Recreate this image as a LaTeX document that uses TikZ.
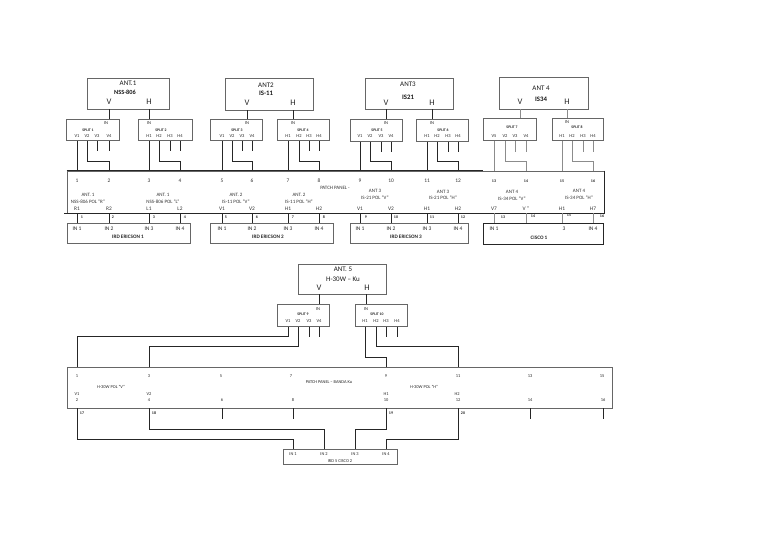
\documentclass[tikz,border=0pt]{standalone}
\usepackage{fontspec}
\setmainfont{Carlito}
\usepackage{tikz}
\tikzset{
	unit/.style={draw=black!60,line width=0.85pt,fill=white,inner sep=0pt},
	wire/.style={draw=black!85,line width=0.8pt},
	fadewire/.style={draw=black!45,line width=0.8pt},
	antlab/.style={font=\fontsize{7}{8}\selectfont,inner sep=0pt,text=black!90},
	pollab/.style={font=\fontsize{8.5}{9}\selectfont,inner sep=0pt,text=black!85},
	pinlab/.style={font=\fontsize{4.5}{5}\selectfont,inner sep=0pt,text=black!85},
	splitlab/.style={font=\fontsize{3.8}{4}\selectfont\bfseries,inner sep=0pt,text=black!85},
	panlab/.style={font=\fontsize{5}{6}\selectfont,inner sep=0pt,text=black!80},
	numlab/.style={font=\fontsize{5.4}{6}\selectfont,inner sep=0pt,text=black!80},
	tinylab/.style={font=\fontsize{4}{5}\selectfont\bfseries,inner sep=0pt,text=black!85},
	bandlab/.style={font=\fontsize{4.4}{5}\selectfont,inner sep=0pt,text=black!85},
	inlab/.style={font=\fontsize{5.5}{6}\selectfont,inner sep=0pt,text=black!85},
	irdlab/.style={font=\fontsize{5.2}{6}\selectfont\bfseries,inner sep=0pt,text=black!85},
}
\begin{document}
\begin{tikzpicture}[x=1pt,y=-1pt]
	\useasboundingbox (0,0) rectangle (768,543);
	% antennas
	\node [unit, minimum width=82, minimum height=31] (ant1) at (128,93.5) {};
	\node [unit, minimum width=88, minimum height=32] (ant2) at (269.5,94) {};
	\node [unit, minimum width=88, minimum height=31] (ant3) at (409,93.5) {};
	\node [unit, minimum width=89, minimum height=32] (ant4) at (543.5,93) {};
	\node [unit, minimum width=88, minimum height=30] (ant5) at (342,279) {};
	\node [antlab] (a1t) at (128,83.5) {ANT.1};
	\node [antlab, font=\fontsize{6.3}{7}\selectfont\bfseries] (a1s) at (125,92.5) {NSS-806};
	\node [antlab] (a2t) at (266,85) {ANT2};
	\node [antlab, font=\fontsize{6.8}{7}\selectfont\bfseries] (a2s) at (266,93.5) {IS-11};
	\node [antlab] (a3t) at (408,84.5) {ANT3};
	\node [antlab, font=\fontsize{6.8}{7}\selectfont\bfseries] (a3s) at (408,97) {IS21};
	\node [antlab] (a4t) at (541,88.5) {ANT 4};
	\node [antlab, font=\fontsize{6.8}{7}\selectfont\bfseries] (a4s) at (541,99) {IS34};
	\node [antlab] (a5t) at (343,269.5) {ANT. 5};
	\node [antlab] (a5s) at (343,279.5) {H-30W – Ku};
	\foreach \nm/\px/\py/\txt in {p1v/109/102/V, p1h/149/102/H, p2v/247/103/V, p2h/293/103/H, p3v/386/103/V, p3h/432/103/H, p4v/520/102/V, p4h/567/102/H, p5v/319/288/V, p5h/367/288/H}
		\node [pollab] (\nm) at (\px,\py) {\txt};
	% splitters
	\foreach \nm/\px/\py/\bw in {split1/92.5/130/53, split2/165/130/54, split3/236/130/52, split4/303/130/52, split5/376/130.5/52, split6/442/130.5/52, split7/509.5/129.5/53, split8/577.5/129.5/51, split9/303/315.5/52, split10/381/315.5/52}
		\node [unit, minimum width=\bw, minimum height=21.5] (\nm) at (\px,\py) {};
	\foreach \nm/\px/\py/\txt in {st1/88/130/SPLIT 1, st2/161/130/SPLIT 2, st3/237/130/SPLIT 3, st4/303/130/SPLIT 4, st5/377/130/SPLIT 5, st6/443/130/SPLIT 6, st7/512/127/SPLIT 7, st8/577/127/SPLIT 8, st9/303/314.5/SPLIT 9, st10/377/314.5/SPLIT 10}
		\node [splitlab] (\nm) at (\px,\py) {\txt};
	\foreach \nm/\px/\py in {in1/106/123, in2/149/123, in3/247/123, in4/293/123, in5/386/123, in6/432/123, in8/567/122, in9/318/309, in10/366/309}
		\node [pinlab] (\nm) at (\px,\py) {IN};
	\foreach \nm/\px/\txt in {a/77/V1, b/87/V2, c/97/V3, d/109/V4, e/149/H1, f/159/H2, g/170/H3, h/180/H4, i/222/V1, j/232/V2, k/242/V3, l/252/V4, m/288/H1, n/299/H2, o/309/H3, q/319/H4, r/360/V1, s/370/V2, t/381/V3, u/391/V4, v/427/H1, w/437/H2, x/448/H3, y/458/H4, z/494/V5, aa/505/V2, ab/515/V3, ac/526/V4, ad/562/H1, ae/572/H2, af/583/H3, ag/593/H4}
		\node [pinlab] (pin\nm) at (\px,136) {\txt};
	\foreach \nm/\px/\txt in {a/288/V1, b/298/V2, c/309/V3, d/319/V4, e/365/H1, f/376/H2, g/386/H3, h/397/H4}
		\node [pinlab] (low\nm) at (\px,321) {\txt};
	% panels and receivers
	\node [unit, minimum width=537, minimum height=42] (panelA) at (335.5,192) {};
	\node [unit, minimum width=545, minimum height=41] (panelB) at (339.5,387.5) {};
	\node [unit, minimum width=123, minimum height=20] (ird1) at (128.5,233) {};
	\node [unit, minimum width=123, minimum height=20] (ird2) at (271.5,233) {};
	\node [unit, minimum width=118, minimum height=20] (ird3) at (409,233) {};
	\node [unit, minimum width=120, minimum height=21, draw=black!85] (ird4) at (543,233.5) {};
	\node [unit, minimum width=114, minimum height=15] (ird5) at (340,456.5) {};
	\foreach \nm/\px/\txt in {1/77/1, 2/109/2, 3/149/3, 4/180/4, 5/222/5, 6/252/6, 7/288/7, 8/319/8, 9/360/9, 10/391/10, 11/427/11, 12/458/12}
		\node [numlab] (n\nm) at (\px,181) {\txt};
	\foreach \nm/\px/\txt in {13/494/13, 14/526/14, 15/562/15, 16/593/16}
		\node [tinylab] (n\nm) at (\px,181) {\txt};
	\foreach \nm/\px/\txt in {1/77/R1, 2/109/R2, 3/149/L1, 4/180/L2, 5/222/V1, 6/252/V2, 7/288/H1, 8/319/H2, 9/360/V1, 10/391/V2, 11/427/H1, 12/458/H2, 13/494/V7, 14/526/V ", 15/562/H1, 16/593/H7}
		\node [numlab] (r\nm) at (\px,209) {\txt};
	\foreach \nm/\px/\py/\txt in {1/82/217/1, 2/113/217/2, 3/154/217/3, 4/185/217/4, 5/226/217/5, 6/257/217/6, 7/293/217/7, 8/324/217/8, 9/366/217/9, 10/396/217/10, 11/432/217/11, 12/463/217/12, 13/503/217/13, 14/533/216/14, 15/569/215/15, 16/602/216/16}
		\node [tinylab] (c\nm) at (\px,\py) {\txt};
	\foreach \nm/\px/\txt in {1/77/IN 1, 2/109/IN 2, 3/149/IN 3, 4/180/IN 4, 5/222/IN 1, 6/252/IN 2, 7/288/IN 3, 8/319/IN 4, 9/360/IN 1, 10/391/IN 2, 11/427/IN 3, 12/458/IN 4, 13/494/IN 1, 16/593/IN 4}
		\node [inlab] (i\nm) at (\px,229) {\txt};
	\node [inlab] (i15) at (564,229) {3};
	\node [irdlab] (e1) at (128,236.5) {IRD ERICSON 1};
	\node [irdlab] (e2) at (268,236.5) {IRD ERICSON 2};
	\node [irdlab] (e3) at (406,236.5) {IRD ERICSON 3};
	\node [irdlab] (e4) at (539,238) {CISCO 1};
	\node [panlab] (pp1) at (335,188) {PATCH PANEL -};
	\foreach \nm/\px/\py/\ax/\ay/\tit/\subt in {1/88/202/88/195/ANT. 1/NSS-806 POL "R", 2/163/202/163/195/ANT. 1/NSS-806 POL "L", 3/236/202/236/195/ANT. 2/IS-11 POL "V", 4/299/202/299/195/ANT. 2/IS-11 POL "H", 5/375/197.5/375/190.5/ANT 3/IS-21 POL "V", 6/443/197.5/443/191.5/ANT 3/IS-21 POL "H", 7/512/198.5/512/191.5/ANT 4/IS-34 POL "V", 8/579/197.5/579/191/ANT 4/IS-34 POL "H"}{
		\node [panlab] (pa\nm) at (\ax,\ay) {\tit};
		\node [panlab] (ps\nm) at (\px,\py) {\subt};
	}
	\foreach \nm/\px/\txt in {1/77/1, 3/149/3, 5/221/5, 7/291/7, 9/386/9, 11/458/11, 13/530/13, 15/602/15}
		\node [bandlab] (m\nm) at (\px,376) {\txt};
	\foreach \nm/\px/\txt in {2/77/2, 4/149/4, 6/222/6, 8/293/8, 10/386/10, 12/458/12, 14/530/14, 16/603/16}
		\node [bandlab] (m\nm) at (\px,400) {\txt};
	\foreach \nm/\px/\txt in {a/77/V1, b/149/V2, c/386/H1, d/457/H2}
		\node [bandlab] (pol\nm) at (\px,394) {\txt};
	\node [bandlab] (pb1) at (111,387) {H-30W POL "V"};
	\node [bandlab] (pb2) at (424,387) {H-30W POL "H"};
	\node [bandlab] (pb3) at (329,382) {PATCH PANEL – BANDA Ku};
	\foreach \nm/\px/\txt in {17/82/17, 18/154/18, 19/391/19, 20/463/20}
		\node [tinylab] (c\nm) at (\px,413) {\txt};
	\foreach \nm/\px/\txt in {1/293/IN 1, 2/324/IN 2, 3/355/IN 3, 4/386/IN 4}
		\node [bandlab] (j\nm) at (\px,454) {\txt};
	\node [bandlab] (e5) at (340,461) {IRD 5 CISCO 2};
	% antenna to splitter
	\draw [wire] (p1v |- ant1.south) -- (p1v |- split1.north);
	\draw [wire] (p1h |- ant1.south) -- (p1h |- split2.north);
	\draw [wire] (p2v |- ant2.south) -- (p2v |- split3.north);
	\draw [wire] (p2h |- ant2.south) -- (p2h |- split4.north);
	\draw [wire] (p3v |- ant3.south) -- (p3v |- split5.north);
	\draw [wire] (p3h |- ant3.south) -- (p3h |- split6.north);
	\draw [fadewire] (p4v |- ant4.south) -- (p4v |- split7.north);
	\draw [fadewire] (p4h |- ant4.south) -- (p4h |- split8.north);
	\draw [wire] (p5v |- ant5.south) -- (p5v |- split9.north);
	\draw [wire] (in10 |- ant5.south) -- (in10 |- split10.north);
	% splitter to panel A
	\foreach \pina/\pinb/\pinc/\pind/\sbox/\numa/\numb in {a/b/c/d/split1/1/2, e/f/g/h/split2/3/4, i/j/k/l/split3/5/6, m/n/o/q/split4/7/8, r/s/t/u/split5/9/10, v/w/x/y/split6/11/12}{
		\draw [wire] (pin\pina |- \sbox.south) -- (n\numa |- panelA.north);
		\draw [wire] (pin\pinb |- \sbox.south) -- ++(0,20) -| (n\numb |- panelA.north);
		\draw [wire] (pin\pinc |- \sbox.south) -- ++(0,10);
		\draw [wire] (pin\pind |- \sbox.south) -- ++(0,10);
	}
	\foreach \pina/\pinb/\pinc/\pind/\sbox/\numa/\numb in {z/aa/ab/ac/split7/13/14, ad/ae/af/ag/split8/15/16}{
		\draw [fadewire] (pin\pina |- \sbox.south) -- (n\numa |- panelA.north);
		\draw [fadewire] (pin\pinb |- \sbox.south) -- ++(0,21) -| (n\numb |- panelA.north);
		\draw [fadewire] (pin\pinc |- \sbox.south) -- ++(0,11);
		\draw [fadewire] (pin\pind |- \sbox.south) -- ++(0,11);
	}
	% panel A edges
	\draw [wire] (panelA.north west) -- (ird4.west |- panelA.north);
	\draw [wire] (panelA.north east) -- (panelA.south east) -- ([xshift=-3pt]panelA.south west);
	% panel A to receivers
	\foreach \k in {1,...,12}
		\draw [wire] (n\k |- panelA.south) -- (n\k |- ird1.north);
	\foreach \k in {13,...,16}
		\draw [fadewire] (n\k |- panelA.south) -- (n\k |- ird4.north);
	% splitter to panel B
	\draw [wire] (lowa |- split9.south) -- ++(0,10) -| (m1 |- panelB.north);
	\draw [wire] (lowb |- split9.south) -- ++(0,20) -| (m3 |- panelB.north);
	\draw [wire] (lowe |- split10.south) -- ++(0,31) -| (m9 |- panelB.north);
	\draw [wire] (lowf |- split10.south) -- ++(0,20) -| (m11 |- panelB.north);
	\foreach \k in {c,d}
		\draw [wire] (low\k |- split9.south) -- ++(0,10);
	\foreach \k in {g,h}
		\draw [wire] (low\k |- split10.south) -- ++(0,10);
	% panel B to receiver
	\draw [wire] (m2 |- panelB.south) -- ++(0,31) -| (j1 |- ird5.north);
	\draw [wire] (m4 |- panelB.south) -- ++(0,21) -| (j2 |- ird5.north);
	\draw [wire] (m10 |- panelB.south) -- ++(0,21) -| (j3 |- ird5.north);
	\draw [wire] (m12 |- panelB.south) -- ++(0,31) -| (j4 |- ird5.north);
	\foreach \k in {6,8,14,16}
		\draw [wire] (m\k |- panelB.south) -- ++(0,11);
\end{tikzpicture}
\end{document}
